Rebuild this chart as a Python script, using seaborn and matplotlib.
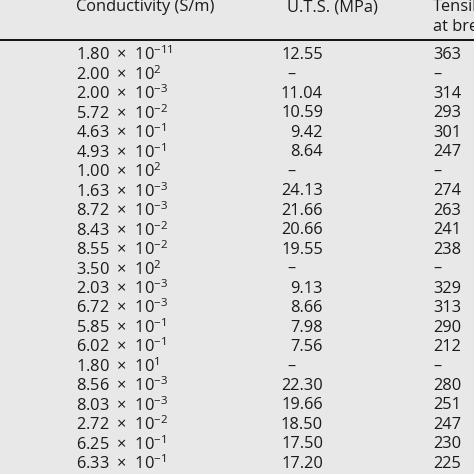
import matplotlib
matplotlib.use("Agg")
import matplotlib.pyplot as plt
import seaborn as sns

sns.set_theme(style="white")
plt.rcParams['font.family'] = ['Open Sans', 'DejaVu Sans']
plt.rcParams['mathtext.fontset'] = 'custom'
plt.rcParams['mathtext.rm'] = 'Open Sans'

cond_mant = ['1.80', '2.00', '2.00', '5.72', '4.63', '4.93', '1.00', '1.63', '8.72', '8.43', '8.55',
             '3.50', '2.03', '6.72', '5.85', '6.02', '1.80', '8.56', '8.03', '2.72', '6.25', '6.33']
cond_exp = ['-11', '2', '-3', '-2', '-1', '-1', '2', '-3', '-3', '-2', '-2',
            '2', '-3', '-3', '-1', '-1', '1', '-3', '-3', '-2', '-1', '-1']
uts = ['12.55', '–', '11.04', '10.59', '9.42', '8.64', '–', '24.13', '21.66', '20.66', '19.55',
       '–', '9.13', '8.66', '7.98', '7.56', '–', '22.30', '19.66', '18.50', '17.50', '17.20']
tens = ['363', '–', '314', '293', '301', '247', '–', '274', '263', '241', '238',
        '–', '329', '313', '290', '212', '–', '280', '251', '247', '230', '225']

fig = plt.figure(figsize=(4.74, 4.74), dpi=100)
fig.patch.set_facecolor('#e8e8e8')
ax = fig.add_axes([0, 0, 1, 1])
ax.set_facecolor('#e8e8e8')
ax.set_xlim(0, 474)
ax.set_ylim(474, 0)
ax.axis('off')

fs = 11.8
col = '#1a1a1a'
ax.text(76, 7, 'Conductivity (S/m)', fontsize=fs, color=col, va='center')
ax.text(287, 7, 'U.T.S. (MPa)', fontsize=fs, color=col, va='center')
ax.text(433, 7, 'Tensile', fontsize=fs, color=col, va='center')
ax.text(433, 27, 'at break', fontsize=fs, color=col, va='center')
ax.axhline(39.5, color='#111111', lw=1.4)

for i in range(len(cond_mant)):
    y = 55 + i * 19.47
    ax.text(76, y, r'$\mathrm{%s}\ \times\ \mathrm{10}^{%s}$' % (cond_mant[i], cond_exp[i].replace('-', '−')),
            fontsize=fs, color=col, va='center')
    if uts[i] == '–':
        ax.text(287, y, '–', fontsize=fs, color=col, va='center')
    else:
        ax.text(323, y, uts[i], fontsize=fs, color=col, va='center', ha='right')
    ax.text(433, y, tens[i], fontsize=fs, color=col, va='center')

fig.savefig('out.png', dpi=100, facecolor=fig.get_facecolor())
